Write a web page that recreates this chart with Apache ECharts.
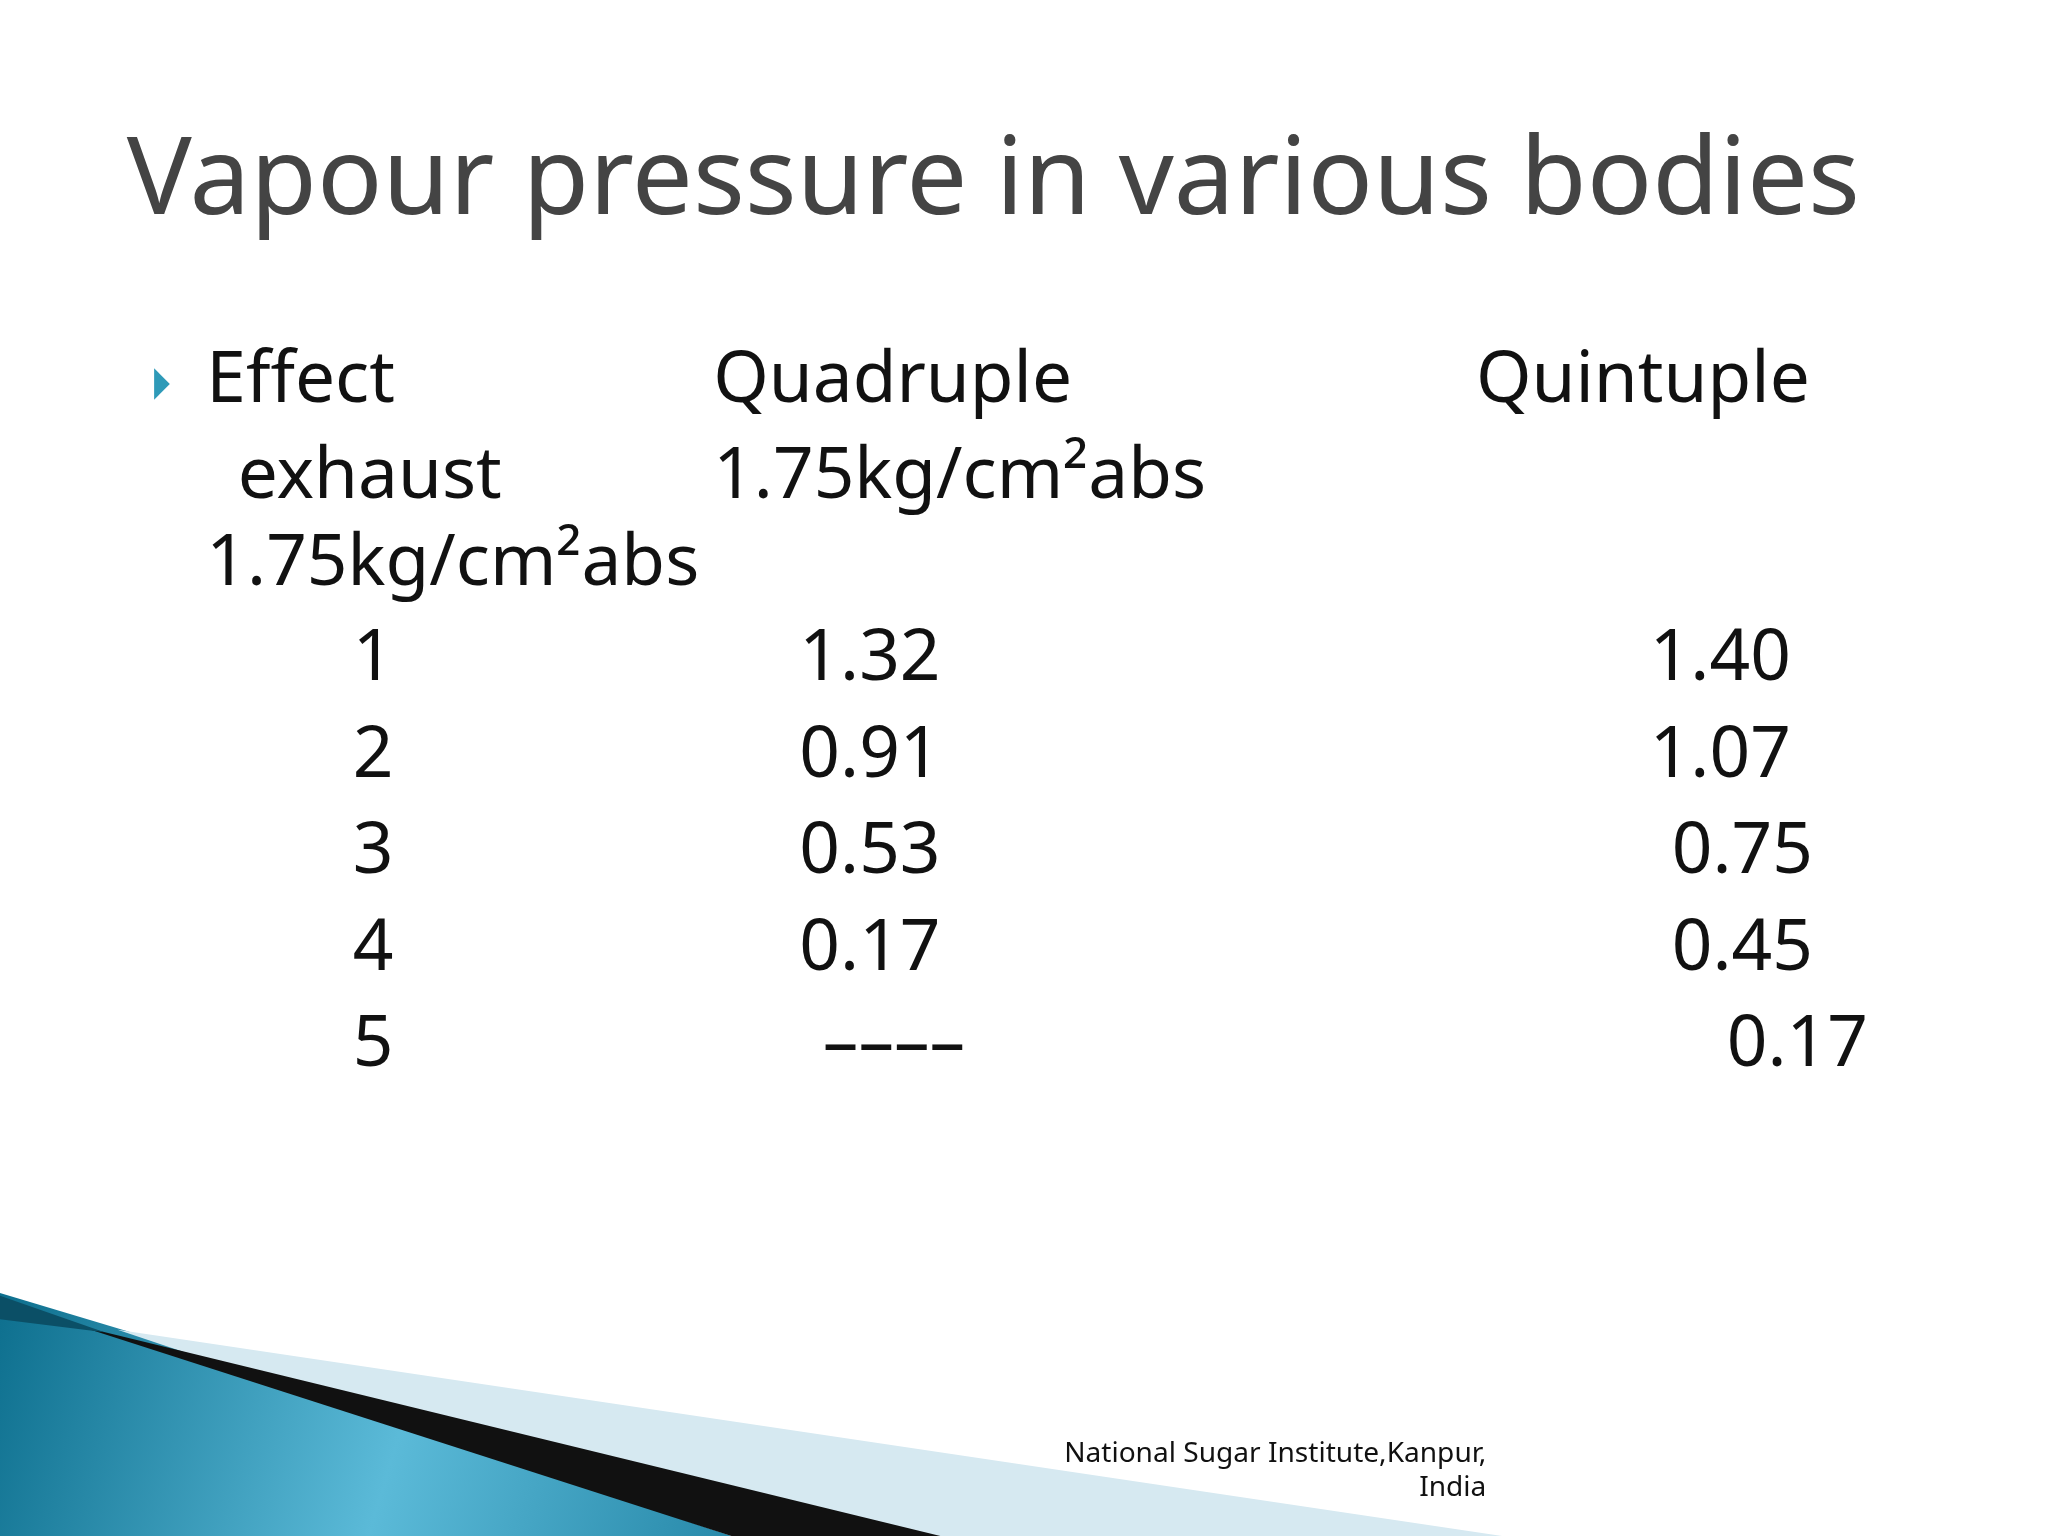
<!DOCTYPE html>
<html><head><meta charset="utf-8">
<script src="https://cdn.jsdelivr.net/npm/echarts@6/dist/echarts.min.js"></script>
<style>html,body{margin:0;padding:0;background:#fff}#c{width:2048px;height:1536px}</style>
</head><body><div id="c"></div>
<script>
const title = "Vapour pressure in various bodies";
const headers = ["Effect", "Quadruple", "Quintuple"];
const effects = ["1", "2", "3", "4", "5"];
const quadruple = ["1.32", "0.91", "0.53", "0.17", "––––"];
const quintuple = ["1.40", "1.07", "0.75", "0.45", "0.17"];
const footer = ["National Sugar Institute,Kanpur,", "India"];

const S = 2048 / 1568;
const F = "Noto Sans, DejaVu Sans, sans-serif";
const g = [];
function txt(s, x, y, size, opts) {
  g.push(Object.assign({type: 'text', x: x * S, y: y * S, style: Object.assign({
    text: s, fontSize: size * S, fontFamily: F, fill: '#111', verticalAlign: 'middle', align: 'left'
  }, (opts || {}).style || {})}, (opts || {}).el || {}));
}
g.push({type: 'polygon', shape: {points: [[0,990],[620,1176],[0,1176]].map(p=>[p[0]*S,p[1]*S])},
  style: {fill: new echarts.graphic.LinearGradient(0,0,1,1,[{offset:0,color:'#0d6f8e'},{offset:0.5,color:'#5bbad8'},{offset:1,color:'#1d7fa0'}])}});
g.push({type: 'polygon', shape: {points: [[90,1018],[1150,1176],[560,1176]].map(p=>[p[0]*S,p[1]*S])},
  style: {fill: '#d6e9f1'}});
g.push({type: 'polygon', shape: {points: [[60,1015],[720,1176],[560,1176]].map(p=>[p[0]*S,p[1]*S])},
  style: {fill: '#111'}});
g.push({type: 'polygon', shape: {points: [[0,992],[80,1020],[0,1010]].map(p=>[p[0]*S,p[1]*S])},
  style: {fill: '#0b4f66'}});

txt(title, 97, 140, 83, {style: {fill: '#444', shadowColor: 'rgba(0,0,0,0.35)', shadowBlur: 6, shadowOffsetX: 3, shadowOffsetY: 3}});
g.push({type: 'polygon', shape: {points: [[118,282],[130,294],[118,306]].map(p=>[p[0]*S,p[1]*S])}, style: {fill: '#2e9ab8'}});
const B = 54.5;
txt(headers[0], 158, 292, B);
txt(headers[1], 546, 292, B);
txt(headers[2], 1130, 292, B);
txt("exhaust", 182, 366, B);
txt("1.75kg/cm²abs", 546, 366, B);
txt("1.75kg/cm²abs", 158, 432, B);
const rowY = [505, 579, 653, 727, 801];
const quadX = [612, 612, 612, 612, 630];
const quinX = [1263, 1263, 1280, 1280, 1322];
effects.forEach((e, i) => {
  txt(e, 270, rowY[i], B);
  txt(quadruple[i], quadX[i], rowY[i], B);
  txt(quintuple[i], quinX[i], rowY[i], B);
});
txt(footer[0], 1138, 1113, 21.5, {style: {align: 'right'}});
txt(footer[1], 1138, 1139, 21.5, {style: {align: 'right'}});

const chart = echarts.init(document.getElementById('c'));
chart.setOption({backgroundColor: '#fff', animation: false, graphic: g});
</script></body></html>
